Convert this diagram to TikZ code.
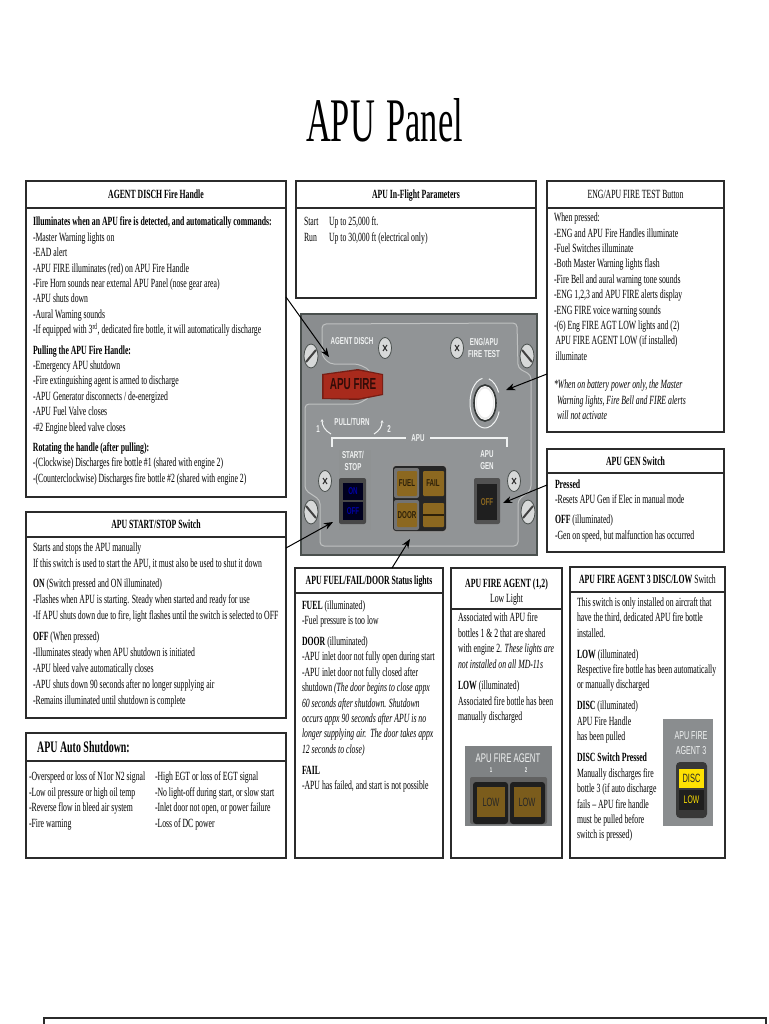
\documentclass[tikz,border=0pt]{standalone}
\usepackage{fontspec}
\setmainfont[FakeStretch=0.62]{Liberation Serif}
\newfontfamily\titlefont[FakeStretch=0.555]{Liberation Serif}
\newfontfamily\panelfont[FakeStretch=0.62]{Liberation Sans}
\usetikzlibrary{positioning}
\usetikzlibrary{arrows.meta}
\definecolor{boxline}{HTML}{2B2B2B}
\definecolor{panelgrey}{HTML}{8A8D8F}
\definecolor{panelrim}{HTML}{4A504E}
\definecolor{platerim}{HTML}{BFC1C1}
\definecolor{paneltext}{HTML}{F0F2F2}
\definecolor{amberlight}{HTML}{8C6820}
\definecolor{amberdark}{HTML}{2E2109}
\definecolor{handlered}{HTML}{A82A1C}
\tikzset{
  headbox/.style={draw=boxline, line width=1.2pt, inner sep=0pt, outer sep=0pt, align=center, text depth=0pt, font=\fontsize{12.5}{14.5}\selectfont},
  bodybox/.style={draw=boxline, line width=1.2pt, inner sep=0pt, outer sep=0pt},
  bodytext/.style={inner sep=0pt, outer sep=0pt, anchor=north west, align=left, font=\fontsize{12.5}{15.4}\selectfont},
  widetext/.style={bodytext, font=\fontsize{12.5}{16}\selectfont},
  panellabel/.style={inner sep=0pt, align=center, text=paneltext, font=\panelfont\bfseries\fontsize{10}{12}\selectfont},
  lighttext/.style={inner sep=0pt, text=amberdark, font=\panelfont\bfseries\fontsize{10}{12}\selectfont},
  panelarrow/.style={draw=black, line width=1pt, -{Stealth[length=9pt,width=7pt]}},
  platerimline/.style={draw=platerim, line width=1pt}
}
\begin{document}
\begin{tikzpicture}[x=1pt,y=1pt]
    \useasboundingbox (0,0) rectangle (768,-1024);
    \fill[white] (0,0) rectangle (768,-1024);

    % Title
    \node[inner sep=0pt, font=\titlefont\fontsize{62}{62}\selectfont] (title) at (384.5,-120) {APU\hspace{3pt} Panel};

    % Define boxes
    \node[headbox, anchor=north west, minimum width=260pt, minimum height=27pt] (dischhead) at (26,-181) {\textbf{AGENT DISCH Fire Handle}};
    \node[bodybox, below=0pt of dischhead, minimum width=260pt, minimum height=289pt] (dischbody) {};
    \node[headbox, anchor=north west, minimum width=240pt, minimum height=27pt] (flighthead) at (296,-181) {\textbf{APU In-Flight Parameters}};
    \node[bodybox, below=0pt of flighthead, minimum width=240pt, minimum height=90pt] (flightbody) {};
    \node[headbox, anchor=north west, minimum width=177pt, minimum height=27pt] (testhead) at (547,-181) {ENG/APU FIRE TEST Button};
    \node[bodybox, below=0pt of testhead, minimum width=177pt, minimum height=224pt] (testbody) {};
    \node[headbox, anchor=north west, minimum width=177pt, minimum height=24pt] (genhead) at (547,-449) {\textbf{APU GEN Switch}};
    \node[bodybox, below=0pt of genhead, minimum width=177pt, minimum height=79pt] (genbody) {};
    \node[headbox, anchor=north west, minimum width=260pt, minimum height=25pt] (starthead) at (26,-512) {\textbf{APU START/STOP Switch}};
    \node[bodybox, below=0pt of starthead, minimum width=260pt, minimum height=181pt] (startbody) {};
    \node[headbox, anchor=north west, minimum width=260pt, minimum height=28pt] (autohead) at (26,-733) {};
    \node[bodybox, below=0pt of autohead, minimum width=260pt, minimum height=97pt] (autobody) {};
    \node[headbox, anchor=north west, minimum width=148pt, minimum height=25pt] (fuelhead) at (295,-568) {\textbf{APU FUEL/FAIL/DOOR Status lights}};
    \node[bodybox, below=0pt of fuelhead, minimum width=148pt, minimum height=265pt] (fuelbody) {};
    \node[headbox, anchor=north west, minimum width=111pt, minimum height=41pt, text height=27pt] (lowhead) at (451,-568) {\textbf{APU FIRE AGENT (1,2)}\\Low Light};
    \node[bodybox, below=0pt of lowhead, minimum width=111pt, minimum height=249pt] (lowbody) {};
    \node[headbox, anchor=north west, minimum width=155pt, minimum height=25pt] (discohead) at (570,-567) {\textbf{APU FIRE AGENT 3 DISC/LOW} Switch};
    \node[bodybox, below=0pt of discohead, minimum width=155pt, minimum height=266pt] (discobody) {};
    \draw[boxline, line width=1.2pt] (44,-1024) |- (766,-1018) -- (766,-1024);

    % Box texts
    \node[anchor=west, inner sep=0pt, font=\bfseries\fontsize{16}{18}\selectfont, right=11pt of autohead.west] (autotitle) {APU Auto Shutdown:};
    \node[bodytext, below right=9pt and 7pt of dischbody.north west] (dischtext) {%
      \textbf{Illuminates when an APU fire is detected, and automatically commands:}\\
      -Master Warning lights on\\
      -EAD alert\\
      -APU FIRE illuminates (red) on APU Fire Handle\\
      -Fire Horn sounds near external APU Panel (nose gear area)\\
      -APU shuts down\\
      -Aural Warning sounds\\
      -If equipped with 3\textsuperscript{rd}, dedicated fire bottle, it will automatically discharge\\[5pt]
      \textbf{Pulling the APU Fire Handle:}\\
      -Emergency APU shutdown\\
      -Fire extinguishing agent is armed to discharge\\
      -APU Generator disconnects / de-energized\\
      -APU Fuel Valve closes\\
      -\#2 Engine bleed valve closes\\[5pt]
      \textbf{Rotating the handle (after pulling):}\\
      -(Clockwise) Discharges fire bottle \#1 (shared with engine 2)\\
      -(Counterclockwise) Discharges fire bottle \#2 (shared with engine 2)};
    \node[widetext, below right=9pt and 8pt of flightbody.north west] (flightkeys) {Start\\Run};
    \node[widetext, below right=9pt and 33pt of flightbody.north west] (flightvals) {Up to 25,000 ft.\\Up to 30,000 ft (electrical only)};
    \node[bodytext, below right=5pt and 7pt of testbody.north west] (testtext) {%
      When pressed:\\
      -ENG and APU Fire Handles illuminate\\
      -Fuel Switches illuminate\\
      -Both Master Warning lights flash\\
      -Fire Bell and aural warning tone sounds\\
      -ENG 1,2,3 and APU FIRE alerts display\\
      -ENG FIRE voice warning sounds\\
      -(6) Eng FIRE AGT LOW lights and (2)\\
      \hspace{1.5pt}APU FIRE AGENT LOW (if installed)\\
      \hspace{1.5pt}illuminate\\[13pt]
      \textit{*When on battery power only, the Master}\\
      \hspace{3pt}\textit{Warning lights, Fire Bell and FIRE alerts}\\
      \hspace{3pt}\textit{will not activate}};
    \node[bodytext, below right=6.5pt and 8pt of genbody.north west] (gentext) {%
      \textbf{Pressed}\\
      -Resets APU Gen if Elec in manual mode\\[5pt]
      \textbf{OFF} (illuminated)\\
      -Gen on speed, but malfunction has occurred};
    \node[widetext, below right=5.5pt and 7pt of startbody.north west] (starttext) {%
      Starts and stops the APU manually\\
      If this switch is used to start the APU, it must also be used to shut it down\\[4.5pt]
      \textbf{ON} (Switch pressed and ON illuminated)\\
      -Flashes when APU is starting. Steady when started and ready for use\\
      -If APU shuts down due to fire, light flashes until the switch is selected to OFF\\[4.5pt]
      \textbf{OFF} (When pressed)\\
      -Illuminates steady when APU shutdown is initiated\\
      -APU bleed valve automatically closes\\
      -APU shuts down 90 seconds after no longer supplying air\\
      -Remains illuminated until shutdown is complete};
    \node[bodytext, below right=11pt and 3pt of autobody.north west] (autoleft) {%
      -Overspeed or loss of N1or N2 signal\\
      -Low oil pressure or high oil temp\\
      -Reverse flow in bleed air system\\
      -Fire warning};
    \node[bodytext, below right=11pt and 129pt of autobody.north west] (autoright) {%
      -High EGT or loss of EGT signal\\
      -No light-off during start, or slow start\\
      -Inlet door not open, or power failure\\
      -Loss of DC power};
    \node[bodytext, below right=7.5pt and 7pt of fuelbody.north west] (fueltext) {%
      \textbf{FUEL} (illuminated)\\
      -Fuel pressure is too low\\[5.5pt]
      \textbf{DOOR} (illuminated)\\
      -APU inlet door not fully open during start\\
      -APU inlet door not fully closed after\\
      shutdown \textit{(The door begins to close appx}\\
      \textit{60 seconds after shutdown. Shutdown}\\
      \textit{occurs appx 90 seconds after APU is no}\\
      \textit{longer supplying air.\ \ The door takes appx}\\
      \textit{12 seconds to close)}\\[5.5pt]
      \textbf{FAIL}\\
      -APU has failed, and start is not possible};
    \node[bodytext, below right=4pt and 7pt of lowbody.north west] (lowtext) {%
      Associated with APU fire\\
      bottles 1 \& 2 that are shared\\
      with engine 2. \textit{These lights are}\\
      \textit{not installed on all MD-11s}\\[6.5pt]
      \textbf{LOW} (illuminated)\\
      Associated fire bottle has been\\
      manually discharged};
    \node[bodytext, below right=5.5pt and 7pt of discobody.north west] (discotext) {%
      This switch is only installed on aircraft that\\
      have the third, dedicated APU fire bottle\\
      installed.\\[5.5pt]
      \textbf{LOW} (illuminated)\\
      Respective fire bottle has been automatically\\
      or manually discharged\\[5.5pt]
      \textbf{DISC} (illuminated)\\
      APU Fire Handle\\
      has been pulled\\[6pt]
      \textbf{DISC Switch Pressed}\\
      Manually discharges fire\\
      bottle 3 (if auto discharge\\
      fails -- APU fire handle\\
      must be pulled before\\
      switch is pressed)};

    % Panel plate
    \draw[panelrim, line width=2.4pt, fill=panelgrey] (301,-314) rectangle (537,-555);
    \draw[platerimline, fill=panelgrey!94!white, rounded corners=4pt]
      (322,-324) -- (517,-323) -- (518,-368) -- (531,-375) -- (531,-490) -- (518,-500) -- (518,-546)
      -- (320,-546) -- (320,-500) -- (305,-490) -- (305,-404) -- (358,-404) -- (370,-397) -- (370,-370)
      -- (358,-364) -- (330,-364) -- (322,-356) -- cycle;
    \fill[panelgrey!96!white] (339,-450) rectangle (371,-530);

    % Screws
    \foreach \sx/\sy/\sd in {311/356/1,527/356/-1,311/512/-1,528/512/1}{
      \draw[panelrim, line width=0.8pt, fill=paneltext!75!panelgrey] (\sx,-\sy) ellipse (7pt and 12pt);
      \draw[black!75, line width=2pt] (\sx-5*\sd,-\sy-6) -- (\sx+5*\sd,-\sy+6);
    }
    \foreach \sx/\sy in {385/348,457/348,325/481,514/481}{
      \draw[panelrim, line width=0.8pt, fill=paneltext!75!panelgrey] (\sx,-\sy) ellipse (6.5pt and 10.5pt);
      \draw[black!80, line width=1pt] (\sx-2,-\sy-3) -- (\sx+2,-\sy+3) (\sx-2,-\sy+3) -- (\sx+2,-\sy-3);
    }

    % Panel labels
    \node[panellabel] (dischlabel) at (352,-341) {AGENT DISCH};
    \node[panellabel] (testlabel) at (484,-348) {ENG/APU\\FIRE TEST};
    \node[panellabel] (pulllabel) at (352,-422) {PULL/TURN};
    \node[panellabel] (onelabel) at (318,-429) {1};
    \node[panellabel] (twolabel) at (389,-429) {2};
    \node[panellabel, inner xsep=5pt] (apulabel) at (418,-438) {APU};
    \node[panellabel] (stoplabel) at (353,-461) {START/\\STOP};
    \node[panellabel] (genlabel) at (487,-460) {APU\\GEN};
    \coordinate (bracketleft) at (332,-447);
    \coordinate (bracketright) at (507,-447);
    \draw[paneltext, line width=1.2pt] (bracketleft) |- (apulabel.west);
    \draw[paneltext, line width=1.2pt] (bracketright) |- (apulabel.east);
    \draw[paneltext, line width=1pt, -{Stealth[length=3pt,width=3pt]}] (331,-434) to[bend left=30] (322,-419);
    \draw[paneltext, line width=1pt, -{Stealth[length=3pt,width=3pt]}] (374,-434) to[bend right=30] (382,-420);

    % Fire handle
    \fill[handlered!70!black] (322,-374) -- (358,-369) -- (383,-374) -- (383,-395) -- (358,-400) -- (322,-399) -- cycle;
    \fill[handlered] (323.5,-375) -- (358,-370.5) -- (382,-375) -- (382,-394) -- (358,-398.5) -- (323.5,-398) -- cycle;
    \node[inner sep=0pt, text=black!70!handlered, font=\panelfont\bfseries\fontsize{16}{16}\selectfont] (handle) at (353,-384) {APU FIRE};

    % Fire test button
    \draw[paneltext, line width=1pt] (485,-403) ++(25:15pt and 25pt) arc[start angle=25, end angle=75, x radius=15pt, y radius=25pt];
    \draw[paneltext, line width=1pt] (485,-403) ++(100:15pt and 25pt) arc[start angle=100, end angle=340, x radius=15pt, y radius=25pt];
    \draw[panelrim!70!black, line width=1.6pt, fill=white] (485,-403) ellipse (11pt and 18pt);
    \fill[black!8] (485,-403) ellipse (9.5pt and 16.5pt);
    \fill[white] (485,-403) ellipse (8pt and 14.5pt);

    % Start switch
    \fill[black!72, rounded corners=2pt] (339,-478) rectangle (366,-524);
    \fill[black!88!blue] (343,-483) rectangle (363,-500);
    \fill[black!88!blue] (343,-502) rectangle (363,-520);
    \node[lighttext, text=blue!65!black] (onlight) at (353,-491.5) {ON};
    \node[lighttext, text=blue!65!black] (offlight) at (353,-511) {OFF};

    % Status lights
    \fill[black!42, rounded corners=2pt] (392,-463) rectangle (447,-533);
    \fill[black!85, rounded corners=3pt] (393,-466) rectangle (446,-531);
    \fill[black!55, rounded corners=2pt] (394,-468) rectangle (419,-498);
    \fill[black!55, rounded corners=2pt] (394,-500) rectangle (419,-530);
    \fill[amberlight, rounded corners=1pt] (397,-471) rectangle (417,-496);
    \fill[amberlight, rounded corners=1pt] (423,-471) rectangle (444,-496);
    \fill[amberlight, rounded corners=1pt] (397,-503) rectangle (417,-527);
    \fill[amberlight, rounded corners=1pt] (423,-503) rectangle (444,-527);
    \fill[amberdark] (423,-514) rectangle (444,-516);
    \node[lighttext] (fuellight) at (407,-483) {FUEL};
    \node[lighttext] (faillight) at (433,-483) {FAIL};
    \node[lighttext] (doorlight) at (407,-515) {DOOR};

    % Gen switch
    \fill[black!68, rounded corners=2pt] (474,-478) rectangle (500,-524);
    \fill[black!88] (477,-484) rectangle (497,-520);
    \node[lighttext, text=amberlight] (genlight) at (487,-502) {OFF};

    % Fire agent pictures
    \fill[panelgrey!92!black] (465,-746) rectangle (552,-826);
    \node[panellabel, font=\panelfont\fontsize{12.5}{14}\selectfont] (agentlabel) at (508,-758) {APU FIRE AGENT};
    \node[panellabel, font=\panelfont\bfseries\fontsize{7}{8}\selectfont] (agentone) at (491,-770) {1};
    \node[panellabel, font=\panelfont\bfseries\fontsize{7}{8}\selectfont] (agenttwo) at (526,-770) {2};
    \fill[black!62, rounded corners=2pt] (470,-777) rectangle (547,-824);
    \fill[black!88, rounded corners=3pt] (473,-782) rectangle (508,-824);
    \fill[black!88, rounded corners=3pt] (510,-782) rectangle (545,-824);
    \fill[amberlight!88!black] (477,-787) rectangle (505,-817);
    \fill[amberlight!88!black] (514,-787) rectangle (541,-817);
    \node[lighttext, text=black!85, font=\panelfont\fontsize{12}{14}\selectfont] (lowone) at (491,-802) {LOW};
    \node[lighttext, text=black!85, font=\panelfont\fontsize{12}{14}\selectfont] (lowtwo) at (527,-802) {LOW};

    \fill[panelgrey] (663,-719) rectangle (713,-826);
    \node[panellabel, font=\panelfont\fontsize{11.5}{15}\selectfont] (thirdlabel) at (691,-743) {APU FIRE\\AGENT 3};
    \fill[black!78, rounded corners=4pt] (676,-762) rectangle (707,-818);
    \fill[yellow!92!red] (679,-769) rectangle (704,-788);
    \fill[black!88] (679,-790) rectangle (704,-810);
    \node[lighttext, text=black!85, font=\panelfont\fontsize{12}{14}\selectfont] (disclight) at (691.5,-778.5) {DISC};
    \node[lighttext, text=yellow!92!red, font=\panelfont\fontsize{11}{13}\selectfont] (lowlight) at (691.5,-799.5) {LOW};

    % Connect the boxes to the panel
    \coordinate (dischtail) at (286,-297);
    \coordinate (dischtip) at (329,-357);
    \coordinate (starttail) at (286,-548);
    \coordinate (starttip) at (333,-522);
    \coordinate (fueltail) at (392,-568);
    \coordinate (fueltip) at (410,-539);
    \coordinate (testtail) at (547,-374);
    \coordinate (testtip) at (506,-390);
    \coordinate (gentail) at (547,-485);
    \coordinate (gentip) at (503,-503);
    \draw[panelarrow] (dischtail) -- (dischtip);
    \draw[panelarrow] (starttail) -- (starttip);
    \draw[panelarrow] (fueltail) -- (fueltip);
    \draw[panelarrow] (testtail) -- (testtip);
    \draw[panelarrow] (gentail) -- (gentip);
\end{tikzpicture}
\end{document}
